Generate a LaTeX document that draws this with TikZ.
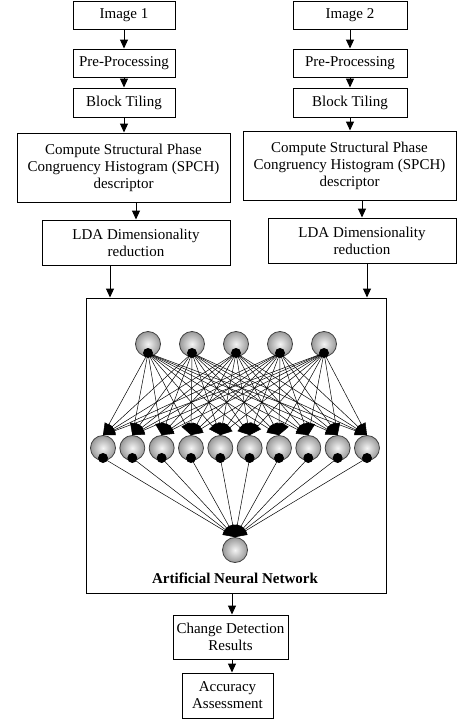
\documentclass[tikz,border=0pt]{standalone}
\usepackage{fontspec}
\setmainfont{Liberation Serif}
\usetikzlibrary{arrows.meta}

\begin{document}
\begin{tikzpicture}[x=1pt,y=1pt]
    \tikzstyle{every node}+=[inner sep=0pt]
    \tikzstyle{block}=[draw, line width=1pt, align=center, font=\fontsize{15}{17}\selectfont]
    \tikzstyle{flow}=[-{Triangle[length=9pt,width=8pt]}, line width=1pt]
    \tikzstyle{neuron}=[circle, minimum size=25pt, draw=black!75, line width=0.8pt, shading=radial, inner color=gray!8, outer color=gray!80]
    \tikzstyle{blob}=[circle, fill=black, minimum size=10pt]
    \tikzstyle{link}=[-{Triangle[length=12pt,width=9pt]}, line width=0.5pt]
    \useasboundingbox (0,0) rectangle (474,-728);
    % left branch
    \node [block, minimum width=102, minimum height=28] (img1) at (124,-15) {Image 1};
    \node [block, minimum width=102, minimum height=28] (pre1) at (124,-63) {Pre-Processing};
    \node [block, minimum width=102, minimum height=29] (tile1) at (124,-102.5) {Block Tiling};
    \node [block, minimum width=213, minimum height=69] (spch1) at (123.5,-167.5) {Compute Structural Phase\\Congruency Histogram (SPCH)\\descriptor};
    \node [block, minimum width=188, minimum height=45] (lda1) at (136,-242.5) {LDA Dimensionality\\reduction};
    % right branch
    \node [block, minimum width=114, minimum height=28] (img2) at (350,-15) {Image 2};
    \node [block, minimum width=114, minimum height=28] (pre2) at (350,-63) {Pre-Processing};
    \node [block, minimum width=114, minimum height=29] (tile2) at (350,-102.5) {Block Tiling};
    \node [block, minimum width=213, minimum height=69] (spch2) at (349.5,-165.5) {Compute Structural Phase\\Congruency Histogram (SPCH)\\descriptor};
    \node [block, minimum width=188, minimum height=45] (lda2) at (362,-240.5) {LDA Dimensionality\\reduction};
    % network box and results
    \node [block, minimum width=300, minimum height=295] (ann) at (236,-445.5) {};
    \node [font=\fontsize{15}{17}\selectfont\bfseries] (annlabel) at (235,-578) {Artificial Neural Network};
    \node [block, minimum width=115, minimum height=44] (chg) at (230.5,-637) {Change Detection\\Results};
    \node [block, minimum width=91, minimum height=45] (acc) at (227.5,-695.5) {Accuracy\\Assessment};
    % flow arrows
    \draw [flow] (img1) -- (pre1);
    \draw [flow] (pre1) -- (tile1);
    \draw [flow] (tile1.south) -- (tile1.south |- spch1.north);
    \draw [flow] (lda1.north |- spch1.south) -- (lda1.north);
    \draw [flow] ([xshift=-26pt]lda1.south) -- ([xshift=-26pt]lda1.south |- ann.north);
    \draw [flow] (img2) -- (pre2);
    \draw [flow] (pre2) -- (tile2);
    \draw [flow] (tile2.south) -- (tile2.south |- spch2.north);
    \draw [flow] (lda2.north |- spch2.south) -- (lda2.north);
    \draw [flow] ([xshift=5pt]lda2.south) -- ([xshift=5pt]lda2.south |- ann.north);
    \draw [flow] ([xshift=-4pt]ann.south) -- ([xshift=-4pt]ann.south |- chg.north);
    \draw [flow] ([xshift=1.5pt]chg.south) -- ([xshift=1.5pt]chg.south |- acc.north);
    % neurons
    \foreach \i in {1,...,5}
        \node [neuron] (in\i) at (104+44*\i,-344) {};
    \foreach \j in {1,...,10}
        \node [neuron] (hid\j) at (73.67+29.33*\j,-448) {};
    \node [neuron] (out) at (235,-550) {};
    \foreach \i in {1,...,5}
        \node [blob] (bin\i) at (104+44*\i,-353) {};
    \foreach \j in {1,...,10}
        \node [blob] (bhid\j) at (73.67+29.33*\j,-458) {};
    % connections
    \foreach \i in {1,...,5}
        \foreach \j in {1,...,10}
            \draw [link] (bin\i.center) -- (hid\j.north);
    \foreach \j in {1,...,10}
        \draw [link] (bhid\j.center) -- (out.north);
\end{tikzpicture}
\end{document}
